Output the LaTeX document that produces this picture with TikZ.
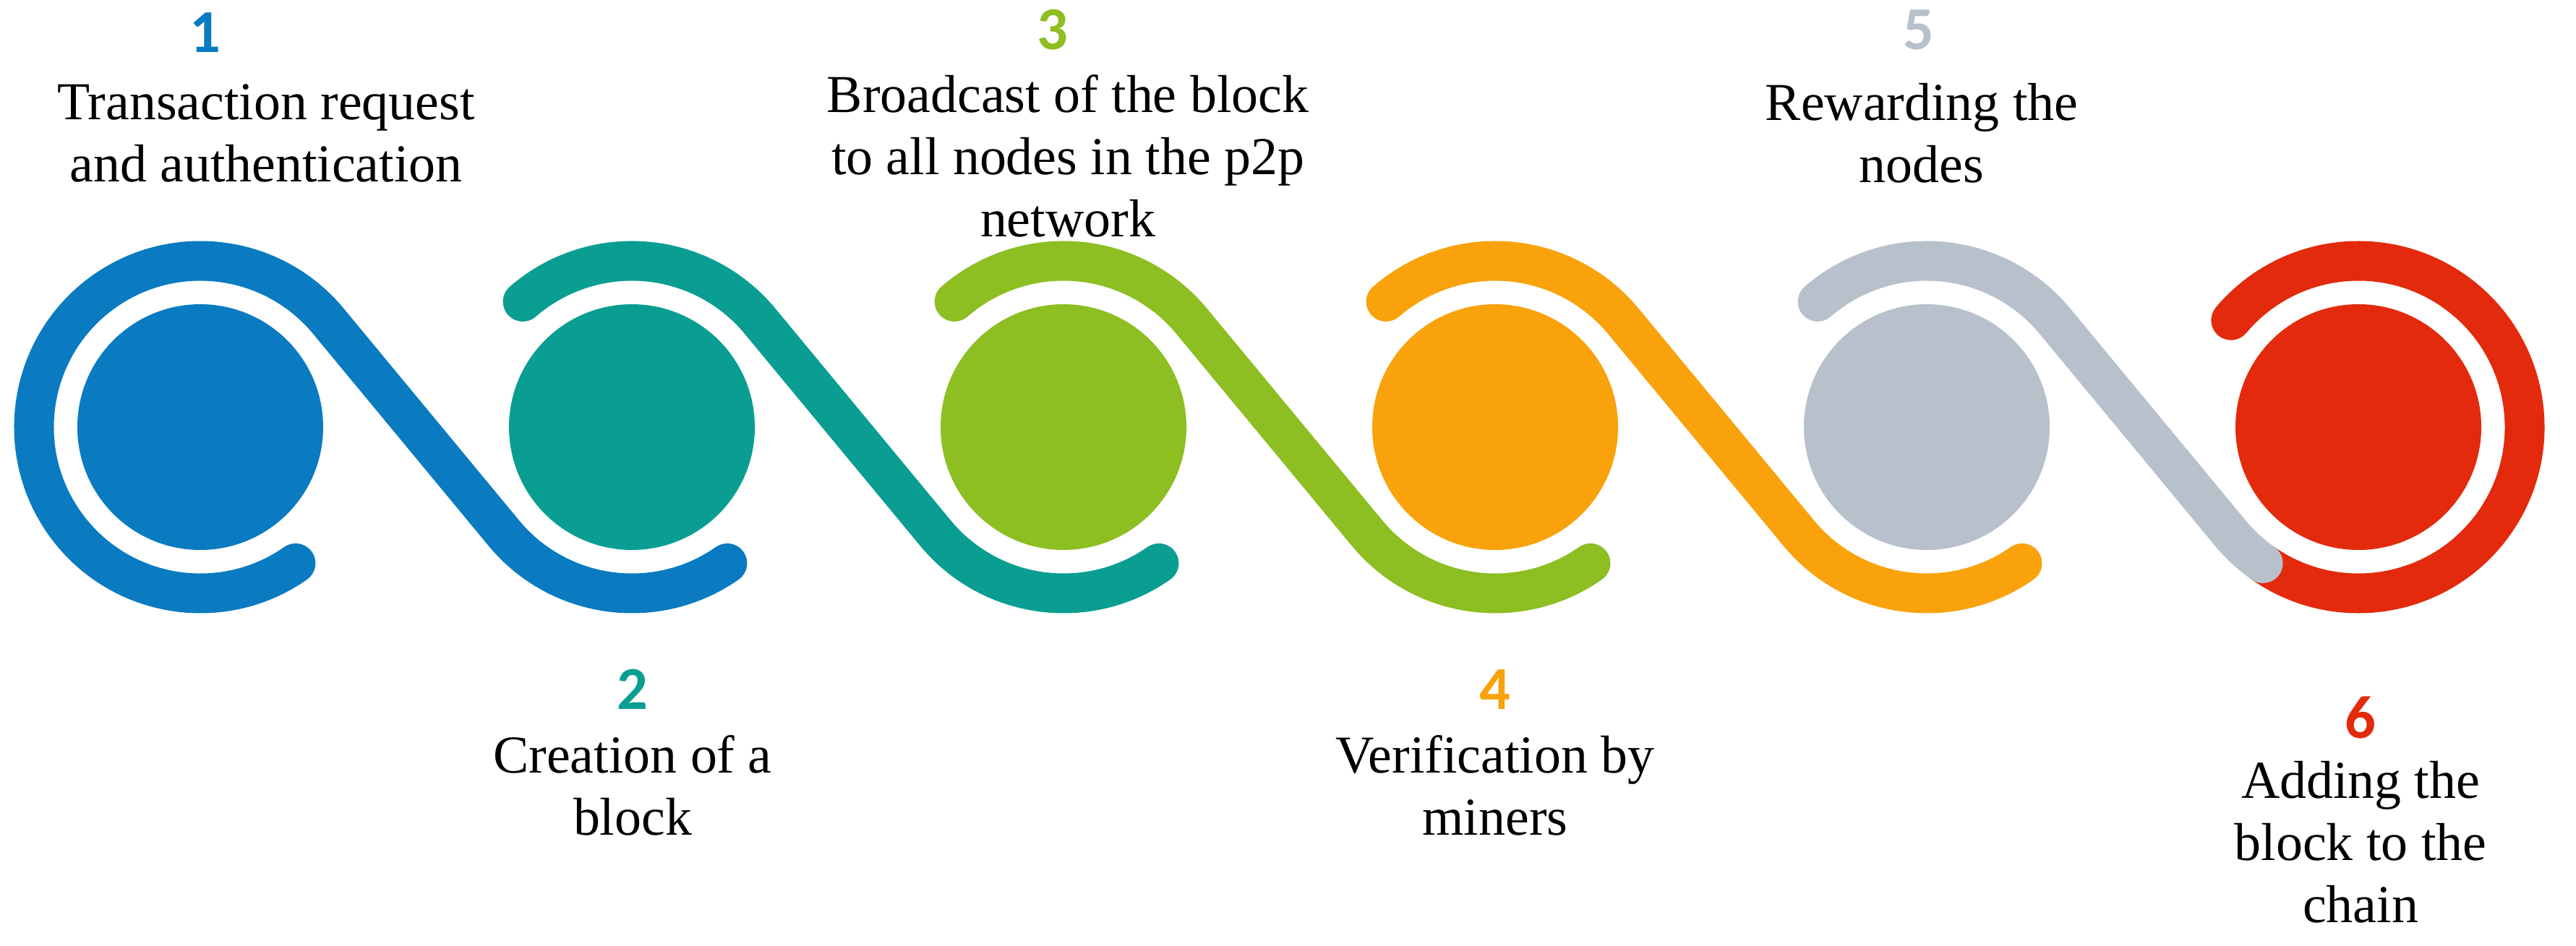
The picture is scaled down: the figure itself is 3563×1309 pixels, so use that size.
\documentclass[tikz,border=0pt]{standalone}
\usepackage{fontspec}
\setmainfont{Liberation Serif}
\newfontfamily\numfont{Carlito}
\usetikzlibrary{calc}
\definecolor{cblue}{HTML}{0A7BC1}
\definecolor{cteal}{HTML}{0A9E92}
\definecolor{cgreen}{HTML}{8DBE22}
\definecolor{corange}{HTML}{F9A20C}
\definecolor{cgrey}{HTML}{B8C0CC}
\definecolor{cred}{HTML}{E32A0C}
\begin{document}
\begin{tikzpicture}[x=0.1mm,y=0.1mm,
  disc/.style={circle,minimum size=34mm,inner sep=0pt},
  ribbon/.style={line width=5.5mm,line cap=round},
  num/.style={font=\numfont\bfseries\fontsize{24}{26}\selectfont},
  lbl/.style={font=\fontsize{21}{24.5}\selectfont,align=center}]
\useasboundingbox (0,0) rectangle (3563,1309);
\def\R{23mm}
\node[disc,fill=cblue] (c1) at (277,718) {};
\node[disc,fill=cteal] (c2) at (874,718) {};
\node[disc,fill=cgreen] (c3) at (1471,718) {};
\node[disc,fill=corange] (c4) at (2068,718) {};
\node[disc,fill=cgrey] (c5) at (2665,718) {};
\node[disc,fill=cred] (c6) at (3262,718) {};
% ribbons
\draw[ribbon,cblue] ($(c1)+(-55:\R)$) arc[start angle=-55,end angle=-320.4,radius=\R]
  -- ($(c2)+(219.6:\R)$) arc[start angle=219.6,end angle=305,radius=\R];
\draw[ribbon,cteal] ($(c2)+(131:\R)$) arc[start angle=131,end angle=39.6,radius=\R]
  -- ($(c3)+(219.6:\R)$) arc[start angle=219.6,end angle=305,radius=\R];
\draw[ribbon,cgreen] ($(c3)+(131:\R)$) arc[start angle=131,end angle=39.6,radius=\R]
  -- ($(c4)+(219.6:\R)$) arc[start angle=219.6,end angle=305,radius=\R];
\draw[ribbon,corange] ($(c4)+(131:\R)$) arc[start angle=131,end angle=39.6,radius=\R]
  -- ($(c5)+(219.6:\R)$) arc[start angle=219.6,end angle=305,radius=\R];
\draw[ribbon,cred] ($(c6)+(235:\R)$) arc[start angle=235,end angle=500,radius=\R];
\draw[ribbon,cgrey] ($(c5)+(131:\R)$) arc[start angle=131,end angle=39.6,radius=\R]
  -- ($(c6)+(219.6:\R)$) arc[start angle=219.6,end angle=235,radius=\R];
% labels
\node[num,text=cblue] (n1) at (284,1264) {1};
\node[lbl] (t1) at (368,1125) {Transaction request\\and authentication};
\node[num,text=cteal] (n2) at (875,355) {2};
\node[lbl] (t2) at (875,222) {Creation of a\\block};
\node[num,text=cgreen] (n3) at (1456,1268) {3};
\node[lbl] (t3) at (1477,1093) {Broadcast of the block\\to all nodes in the p2p\\network};
\node[num,text=corange] (n4) at (2068,355) {4};
\node[lbl] (t4) at (2068,222) {Verification by\\miners};
\node[num,text=cgrey] (n5) at (2654,1268) {5};
\node[lbl] (t5) at (2658,1125) {Rewarding the\\nodes};
\node[num,text=cred] (n6) at (3265,316) {6};
\node[lbl] (t6) at (3265,144) {Adding the\\block to the\\chain};
\end{tikzpicture}
\end{document}
